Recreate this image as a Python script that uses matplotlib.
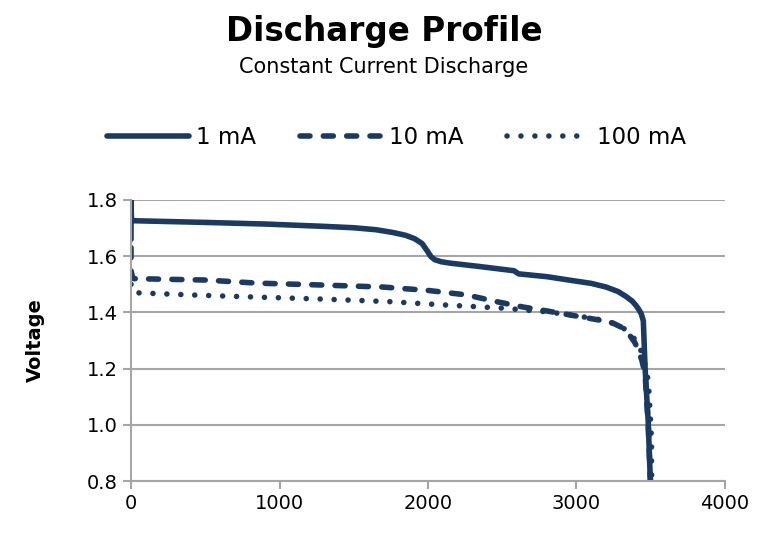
import matplotlib.pyplot as plt

time_1ma = [0, 0, 3, 20, 500, 917, 1300, 1500, 1650, 1765, 1850, 1910, 1960, 1993, 2020, 2047, 2090, 2150, 2349, 2580, 2610, 2800, 2973, 3100, 3200, 3280, 3335, 3375, 3400, 3420, 3436, 3450, 3462, 3483, 3496, 3500]
volt_1ma = [1.66, 1.80, 1.73, 1.726, 1.72, 1.714, 1.706, 1.701, 1.694, 1.684, 1.674, 1.662, 1.645, 1.62, 1.598, 1.587, 1.58, 1.575, 1.563, 1.548, 1.537, 1.527, 1.513, 1.503, 1.49, 1.474, 1.456, 1.44, 1.425, 1.41, 1.395, 1.37, 1.20, 1.01, 0.82, 0.78]

time_10ma = [0, 0, 10, 20, 500, 850, 1300, 1698, 2000, 2260, 2463, 2640, 2800, 3020, 3160, 3245, 3310, 3356, 3390, 3407, 3440, 3462, 3483, 3496, 3500]
volt_10ma = [1.63, 1.55, 1.522, 1.52, 1.515, 1.504, 1.497, 1.49, 1.478, 1.462, 1.438, 1.419, 1.405, 1.385, 1.372, 1.362, 1.345, 1.32, 1.295, 1.277, 1.23, 1.18, 1.0, 0.82, 0.78]

time_100ma = [0, 20, 400, 805, 1300, 1745, 2125, 2503, 2800, 3000, 3200, 3300, 3350, 3400, 3430, 3470, 3484, 3495, 3505, 3506]
volt_100ma = [1.50, 1.47, 1.462, 1.455, 1.447, 1.438, 1.426, 1.415, 1.402, 1.388, 1.37, 1.35, 1.33, 1.30, 1.27, 1.20, 1.15, 1.05, 0.95, 0.78]

labels = ['1 mA', '10 mA', '100 mA']
navy = '#1b3a63'
grey = '#a6a6a6'

fig = plt.figure(figsize=(7.68, 5.36), dpi=100)
ax = fig.add_axes([0.1706, 0.1026, 0.7734, 0.5244])

lw = 4.0
ax.plot(time_1ma, volt_1ma, color=navy, lw=lw, solid_capstyle='round', solid_joinstyle='round', label=labels[0])
ax.plot(time_10ma, volt_10ma, color=navy, lw=lw, linestyle=(0, (1.8, 2.4)), dash_capstyle='round', label=labels[1])
ax.plot(time_100ma, volt_100ma, color=navy, lw=lw, linestyle=(0, (0.01, 2.5)), dash_capstyle='round', label=labels[2])

ax.set_xlim(0, 4000)
ax.set_ylim(0.8, 1.8)
ax.set_xticks([0, 1000, 2000, 3000, 4000])
ax.set_yticks([0.8, 1.0, 1.2, 1.4, 1.6, 1.8])
ax.set_yticklabels(['%.1f' % v for v in [0.8, 1.0, 1.2, 1.4, 1.6, 1.8]])
ax.grid(axis='y', color=grey, lw=1.5)
ax.set_axisbelow(True)
for side in ['top', 'right']:
    ax.spines[side].set_visible(False)
for side in ['left', 'bottom']:
    ax.spines[side].set_color(grey)
    ax.spines[side].set_linewidth(1.5)
ax.tick_params(colors=grey, labelcolor='black', labelsize=14, length=6, width=1.5, direction='out')
ax.set_ylabel('Voltage', fontsize=14, fontweight='bold', labelpad=30)

fig.text(0.5, 0.942, 'Discharge Profile', ha='center', va='center', fontsize=23.5, fontweight='bold')
fig.text(0.5, 0.875, 'Constant Current Discharge', ha='center', va='center', fontsize=15)

fig.legend(loc='center', bbox_to_anchor=(0.516, 0.744), ncol=3, frameon=False, fontsize=16.5,
           handlelength=3.6, handletextpad=0.3, columnspacing=1.9)

fig.savefig('out.png', dpi=100)
